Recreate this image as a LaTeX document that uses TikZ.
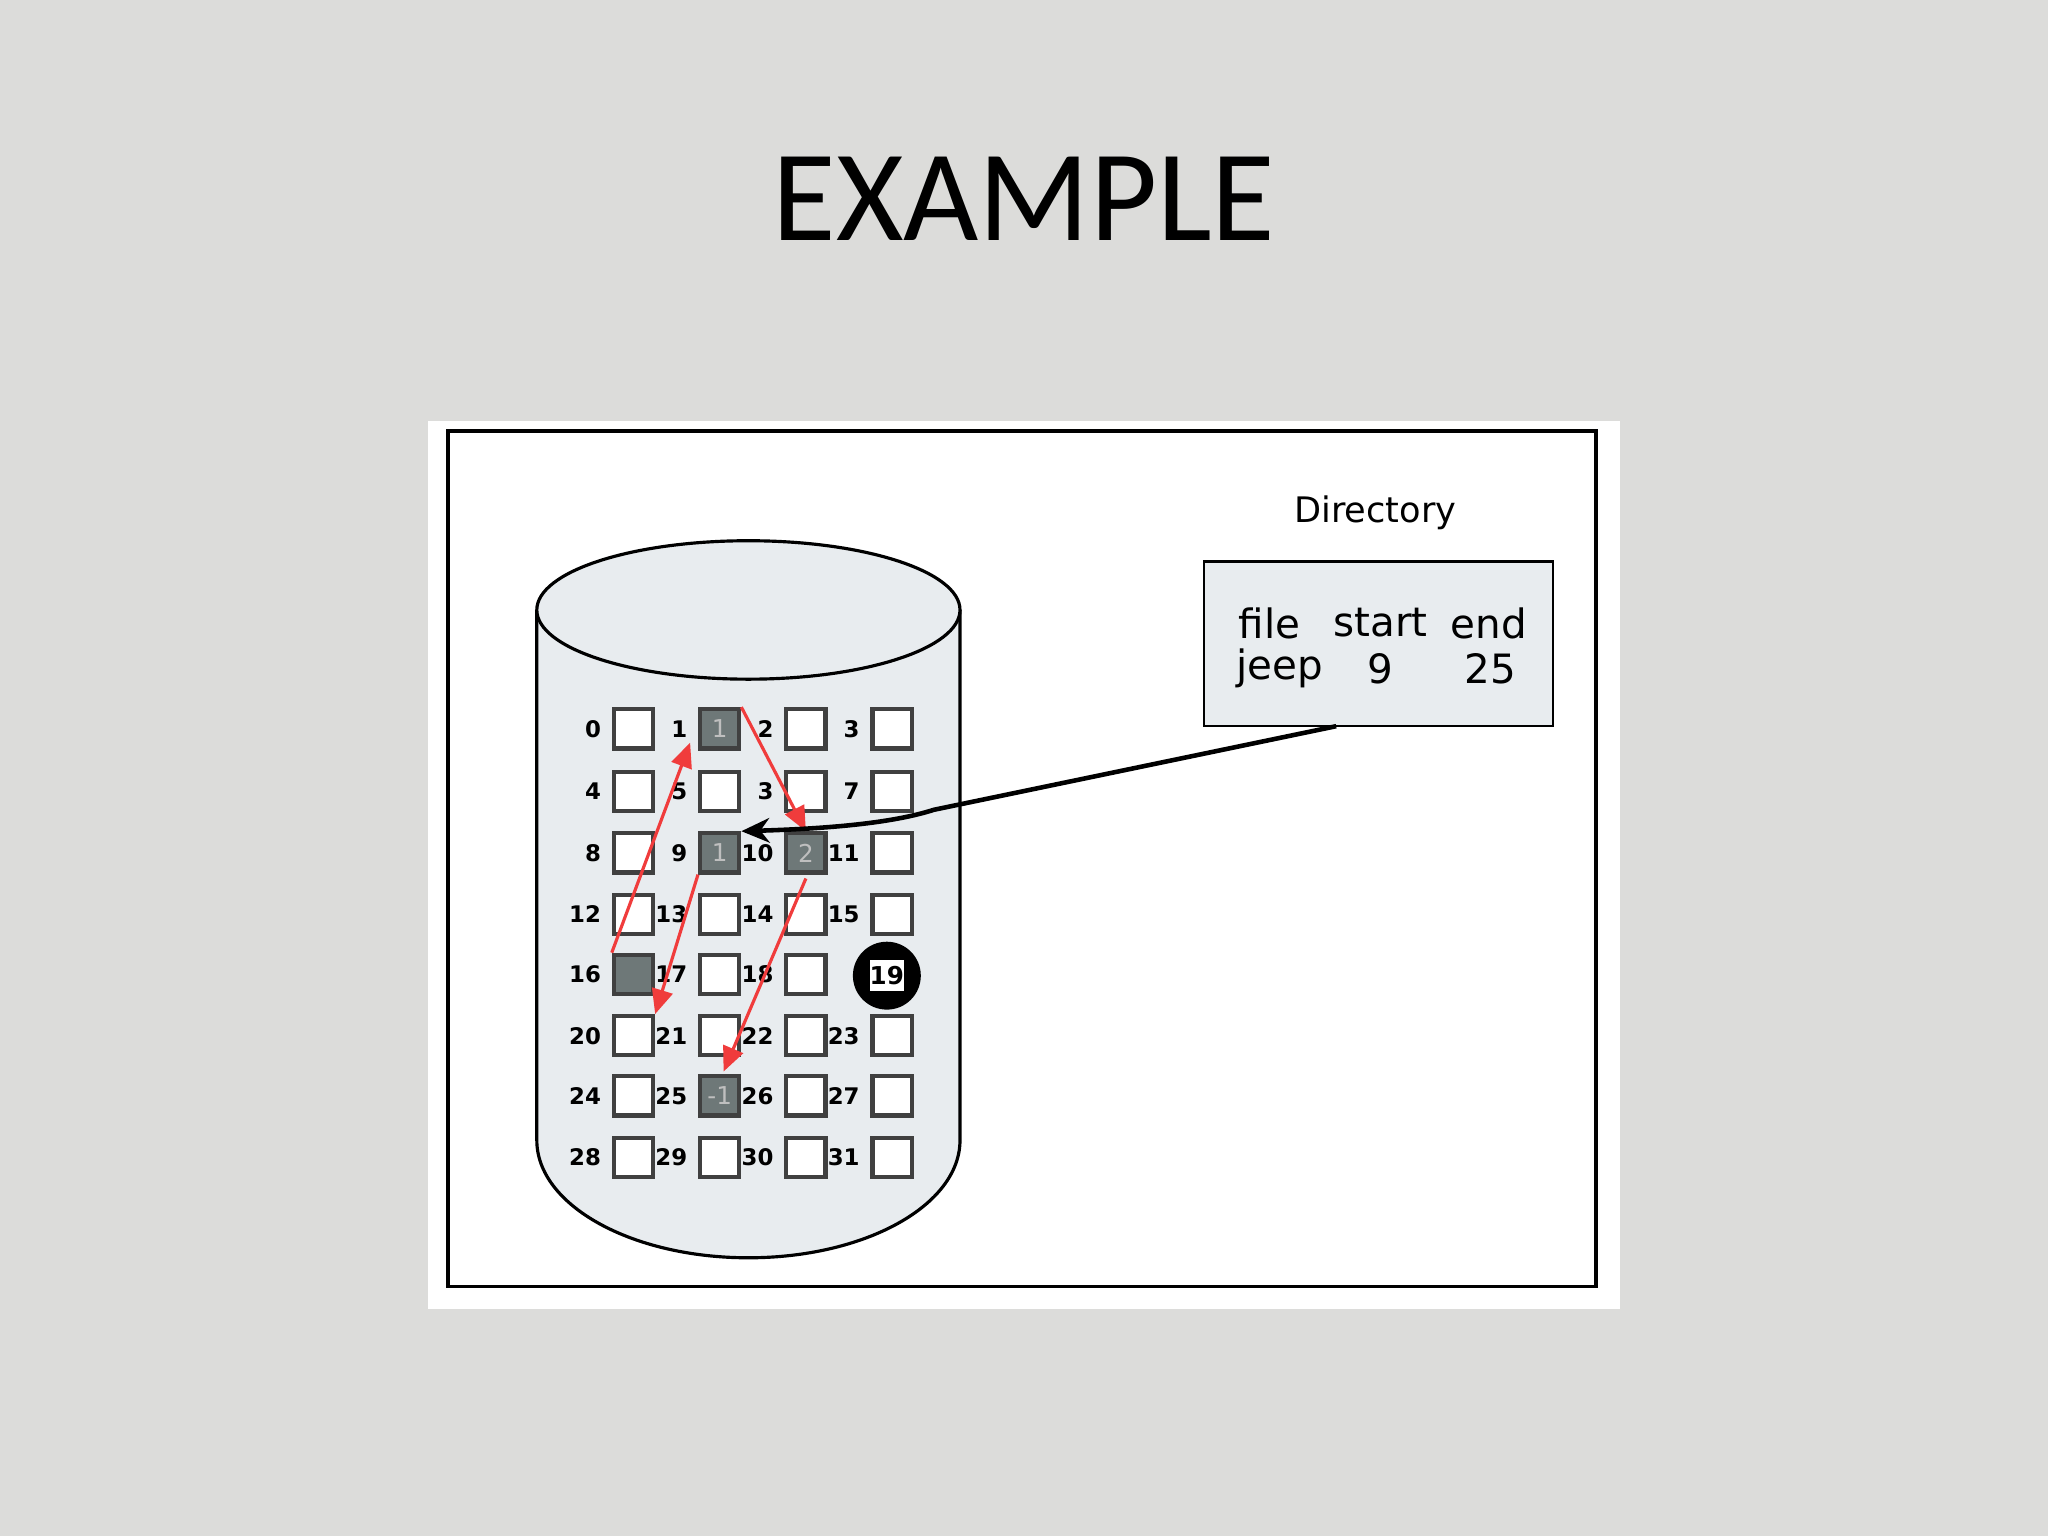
\documentclass[tikz,border=0pt]{standalone}
\usepackage{fontspec}
\setmainfont{Carlito}
\newfontfamily\dv{DejaVu Sans}
\usetikzlibrary{arrows.meta}
\definecolor{bg}{HTML}{DCDCDA}
\definecolor{cyl}{HTML}{E8ECEF}
\definecolor{blk}{HTML}{6E7878}
\definecolor{rd}{HTML}{F03C3C}
\tikzset{
 box/.style={draw=black!75,line width=1.2pt,fill=white,minimum size=30*0.3716pt,inner sep=0pt},
 gbox/.style={box,fill=blk,text=black!25,font=\dv\fontsize{7}{8}\selectfont},
 lab/.style={anchor=east,font=\dv\bfseries\fontsize{6.5}{8}\selectfont,inner sep=1pt},
 rarr/.style={draw=rd,line width=0.9pt,-{Triangle[length=7pt,width=6pt]}},
 dtxt/.style={font=\dv\fontsize{11.5}{13}\selectfont}
}
\begin{document}
\begin{tikzpicture}[x=0.01306cm,y=-0.01306cm]
\fill[bg] (0,0) rectangle (1568,1176);
\useasboundingbox (0,0) rectangle (1568,1176);
\node[font=\fontsize{37}{40}\selectfont] (title) at (784,152) {EXAMPLE};
\fill[white] (328,322) rectangle (1240,1002);
\draw[line width=1pt] (343,330) rectangle (1222,985);
% cylinder
\draw[fill=cyl,line width=0.9pt] (411,467) -- (411,873) arc[start angle=180,end angle=0,x radius=162,y radius=90] -- (735,467);
\draw[fill=cyl,line width=0.9pt] (573,467) ellipse[x radius=162,y radius=53];
% grid
\foreach \r/\y in {0/558,1/606,2/653,3/700,4/746,5/793,6/839,7/886}{
 \foreach \c/\x in {0/485,1/551,2/617,3/683}{
  \pgfmathtruncatemacro{\n}{\r*4+\c}
  \coordinate (p\n) at (\x,\y);
 }}
\foreach \n in {0,2,3,4,5,6,7,8,11,12,13,14,15,17,18,20,21,22,23,24,26,27,28,29,30,31}{
 \node[box] (b\n) at (p\n) {};
}
\node[gbox] (b1) at (p1) {1};
\node[gbox] (b9) at (p9) {1};
\node[gbox] (b10) at (p10) {2};
\node[gbox] (b16) at (p16) {};
\node[gbox] (b25) at (p25) {-1};
\fill (p19)++(-4,1) circle[radius=26];
\node[box,minimum size=24*0.3716pt,draw=none,font=\dv\bfseries\fontsize{7}{8}\selectfont] (b19) at (679,747) {19};
\foreach \n in {0,1,2,3,4,5,7,8,9,10,11,12,13,14,15,16,17,18,20,21,22,23,24,25,26,27,28,29,30,31}{
 \node[lab] (l\n) at ([xshift=-5*0.3716pt]b\n.west) {\n};
}
\node[lab] (l6) at ([xshift=-5*0.3716pt]b6.west) {3};
% red arrows
\draw[rarr] (b16.north west) -- ([xshift=-6*0.3716pt,yshift=6*0.3716pt]b1.south west);
\draw[rarr] (b1.north east) -- (b10.north);
\draw[rarr] (b9.south west) -- (b20.north east);
\draw[rarr] ([yshift=-3*0.3716pt]b10.south) -- ([xshift=3*0.3716pt,yshift=2*0.3716pt]b25.north);
% directory
\node[font=\dv\fontsize{10}{12}\selectfont] (dt) at (1053,393) {Directory};
\draw[fill=cyl,line width=0.7pt] (922,430) rectangle (1189,556);
\coordinate (dir) at (1023,556);
\node[dtxt] (f1) at (972,477) {file};
\node[dtxt] (f2) at (1057,477) {start};
\node[dtxt] (f3) at (1140,477) {end};
\node[dtxt] (g1) at (980,512) {jeep};
\node[dtxt] (g2) at (1057,512) {9};
\node[dtxt] (g3) at (1141,512) {25};
\draw[line width=1.3pt,-{Stealth[length=8pt,width=7pt]}] (dir) -- (715,620) .. controls (690,628) and (650,634) .. (b9.north east);
\end{tikzpicture}
\end{document}
